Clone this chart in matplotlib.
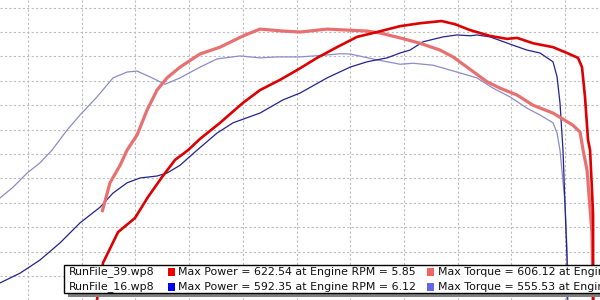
import numpy as np
import matplotlib
matplotlib.use("Agg")
import matplotlib.pyplot as plt
from matplotlib.patches import Rectangle

# Engine RPM (x1000) and values
rpm_pw39 = [2.642, 2.698, 2.838, 2.996, 3.117, 3.248, 3.369, 3.490, 3.601, 3.788, 4.002, 4.160,
            4.346, 4.505, 4.691, 4.877, 5.063, 5.250, 5.464, 5.650, 5.850, 5.976, 6.115, 6.302,
            6.460, 6.553, 6.702, 6.888, 7.019, 7.121, 7.158, 7.186, 7.214, 7.233, 7.251, 7.261, 7.262]
pw39 = [51, 127, 190, 219, 262, 303, 338, 358, 381, 414, 455, 481,
        502, 522, 547, 569, 590, 600, 612, 618, 622.5, 616, 604, 592,
        586, 588, 577, 569, 557, 547, 528, 467, 379, 358, 276, 225, 51]

rpm_tq39 = [2.689, 2.763, 2.857, 2.922, 3.015, 3.108, 3.201, 3.294, 3.415, 3.601, 3.788, 4.002,
            4.160, 4.374, 4.533, 4.784, 4.970, 5.156, 5.277, 5.464, 5.650, 5.836, 5.957, 6.088,
            6.274, 6.395, 6.553, 6.702, 6.888, 7.074, 7.140, 7.168, 7.205, 7.251, 7.261]
tq39 = [231, 291, 327, 358, 389, 440, 481, 506, 528, 555, 569, 592,
        606, 602, 600, 606, 604, 602, 598, 588, 577, 563, 549, 528,
        498, 485, 471, 450, 434, 409, 395, 358, 317, 188, 51]

rpm_pw16 = [1.739, 1.926, 2.112, 2.298, 2.484, 2.670, 2.791, 2.922, 3.043, 3.201, 3.294, 3.415,
            3.574, 3.760, 3.909, 4.160, 4.374, 4.533, 4.784, 4.998, 5.156, 5.343, 5.464, 5.557,
            5.678, 5.864, 5.994, 6.120, 6.180, 6.302, 6.516, 6.646, 6.767, 6.888, 6.926, 6.953,
            6.981, 7.019, 7.020]
pw16 = [86, 106, 133, 168, 209, 241, 270, 291, 301, 305, 311, 327,
        358, 393, 414, 434, 461, 475, 506, 528, 539, 547, 557, 563,
        580, 590, 594, 592.3, 594, 590, 573, 563, 557, 539, 508, 455,
        358, 133, 51]

rpm_tq16 = [1.739, 1.860, 1.991, 2.112, 2.223, 2.363, 2.484, 2.642, 2.791, 2.922, 3.015, 3.136,
            3.276, 3.415, 3.601, 3.760, 3.974, 4.160, 4.318, 4.533, 4.784, 4.905, 4.998, 5.250,
            5.464, 5.585, 5.771, 5.994, 6.180, 6.330, 6.488, 6.646, 6.767, 6.888, 6.926, 6.953,
            7.000, 7.019, 7.028]
tq16 = [260, 282, 311, 332, 358, 399, 430, 467, 506, 518, 520, 508,
        493, 506, 528, 545, 551, 547, 549, 549, 553, 555.5, 555, 543,
        534, 536, 532, 518, 506, 485, 467, 444, 430, 414, 393, 358,
        250, 153, 51]

files = ["RunFile_39.wp8", "RunFile_16.wp8"]
power_txt = ["Max Power = 622.54 at Engine RPM = 5.85", "Max Power = 592.35 at Engine RPM = 6.12"]
torque_txt = ["Max Torque = 606.12 at Engine RPM = 4.16", "Max Torque = 555.53 at Engine RPM = 4.90"]

fig = plt.figure(figsize=(6, 3), dpi=100)
ax = fig.add_axes([0, 0, 1, 1])
ax.set_xlim(1.739, 1.739 + 600 / 107.4)
ax.set_ylim(51, 665.6)
ax.set_xticks(np.arange(2.0, 7.5, 0.5))
ax.set_yticks(np.arange(100, 700, 50))
ax.grid(True, color="#bcbcbc", linestyle=(0, (2, 2)), linewidth=0.8)
ax.tick_params(length=0, labelbottom=False, labelleft=False)
for s in ax.spines.values():
    s.set_visible(False)

ax.plot(rpm_tq16, tq16, color="#8c8cc8", lw=0.9)
ax.plot(rpm_pw16, pw16, color="#23238e", lw=0.9)
ax.plot(rpm_tq39, tq39, color="#e87070", lw=2.3, solid_capstyle="butt")
ax.plot(rpm_pw39, pw39, color="#dd0000", lw=1.9, solid_capstyle="butt")

# legend box (cut at right edge like the screenshot)
def fx(px):
    return px / 600

def fy(py):
    return 1 - py / 300

fig.patches.append(Rectangle((fx(68), fy(297)), fx(560), 32 / 300, transform=fig.transFigure,
                             facecolor="#808080", edgecolor="none", zorder=5))
fig.patches.append(Rectangle((fx(64), fy(293)), fx(560), 28 / 300, transform=fig.transFigure,
                             facecolor="white", edgecolor="black", lw=1, zorder=6))

sq_pw = ["#ee0000", "#0000ee"]
sq_tq = ["#f06464", "#6464e6"]
for i, yy in enumerate([272, 287]):
    fig.text(fx(69), fy(yy), files[i], fontsize=7.9, va="center", ha="left", zorder=7,
             color="#101010")
    fig.patches.append(Rectangle((fx(168), fy(yy + 4)), fx(7), 8 / 300, transform=fig.transFigure,
                                 facecolor=sq_pw[i], edgecolor="none", zorder=7))
    fig.text(fx(178), fy(yy), power_txt[i], fontsize=7.9, va="center", ha="left", zorder=7,
             color="#101010")
    fig.patches.append(Rectangle((fx(427), fy(yy + 4)), fx(7), 8 / 300, transform=fig.transFigure,
                                 facecolor=sq_tq[i], edgecolor="none", zorder=7))
    fig.text(fx(438), fy(yy), torque_txt[i], fontsize=7.9, va="center", ha="left", zorder=7,
             color="#101010")

fig.savefig("out.png", dpi=100)
